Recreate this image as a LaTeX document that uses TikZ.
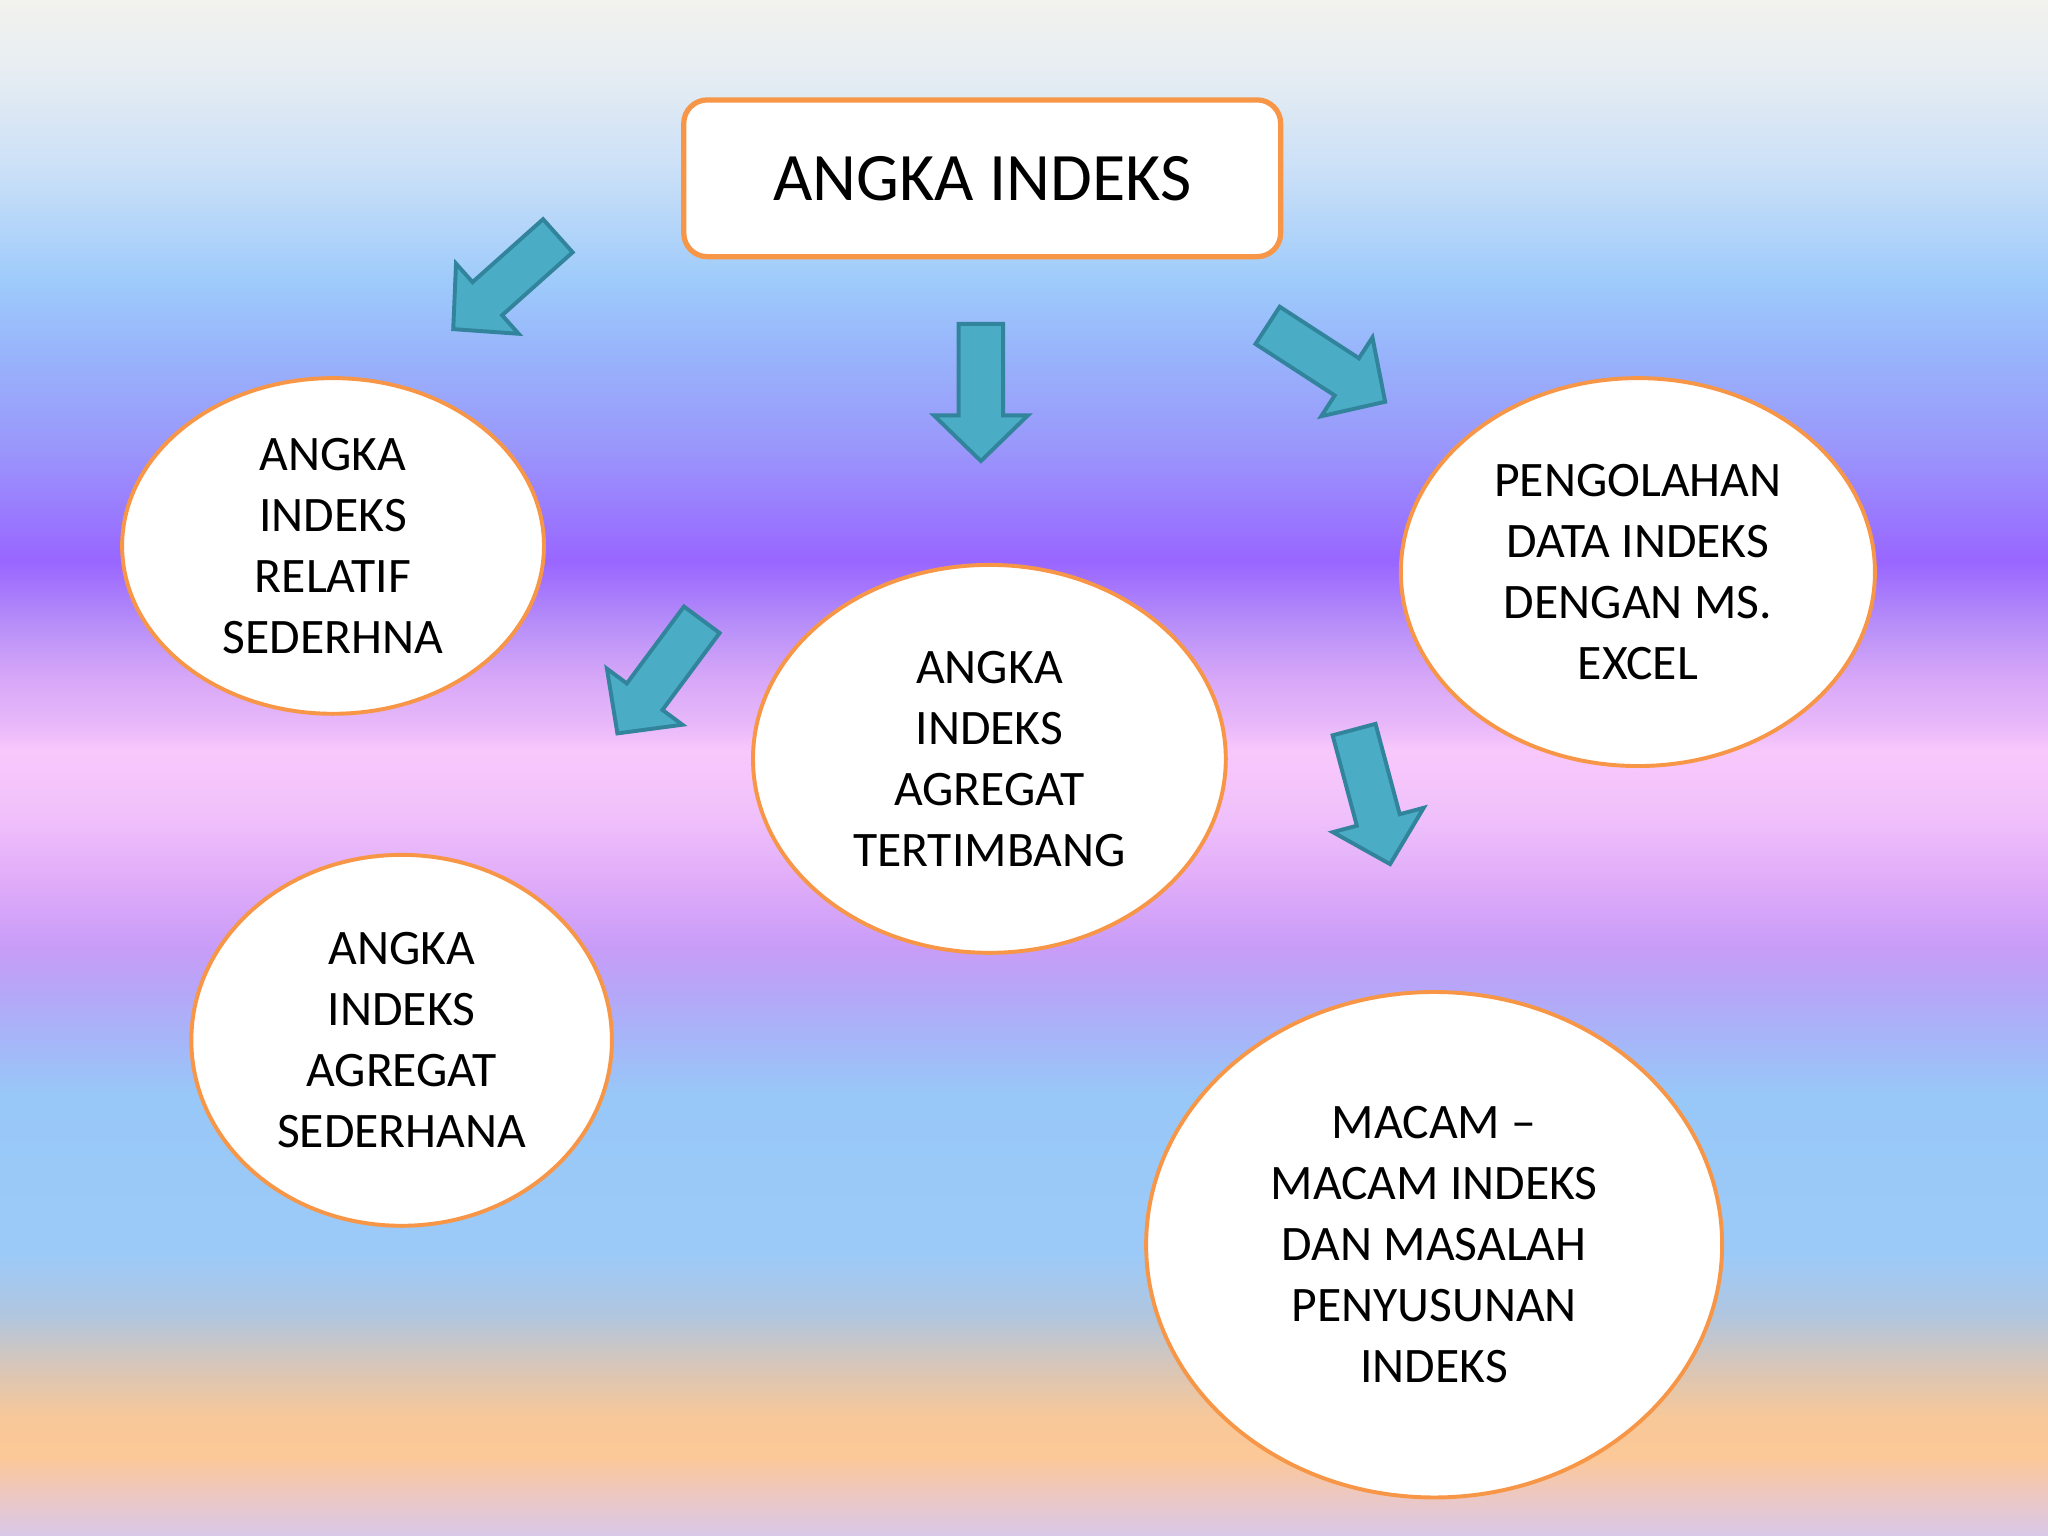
\documentclass[tikz,border=0pt]{standalone}
\usepackage{fontspec}
\setmainfont{Carlito}
\usetikzlibrary{shapes.geometric,calc}
\definecolor{orangeb}{HTML}{F79646}
\definecolor{tealf}{HTML}{4BACC6}
\definecolor{teald}{HTML}{31849B}
\pgfdeclareverticalshading{bgshade}{100bp}{%
rgb(0bp)=(0.847,0.784,0.910);
rgb(25bp)=(0.847,0.784,0.910);
rgb(26.28bp)=(0.925,0.784,0.769);
rgb(27.55bp)=(0.988,0.784,0.596);
rgb(28.83bp)=(0.973,0.784,0.596);
rgb(30.53bp)=(0.847,0.776,0.722);
rgb(32.23bp)=(0.690,0.776,0.878);
rgb(34.18bp)=(0.612,0.792,0.973);
rgb(39.29bp)=(0.596,0.784,0.973);
rgb(40.94bp)=(0.643,0.722,0.973);
rgb(42.56bp)=(0.706,0.659,0.973);
rgb(44.18bp)=(0.784,0.612,0.973);
rgb(46.30bp)=(0.878,0.675,0.976);
rgb(48.43bp)=(0.941,0.753,0.984);
rgb(50.55bp)=(0.973,0.784,0.988);
rgb(51.40bp)=(0.910,0.722,0.980);
rgb(52.85bp)=(0.847,0.659,0.973);
rgb(54.59bp)=(0.722,0.565,0.973);
rgb(56.72bp)=(0.600,0.400,1.000);
rgb(60.54bp)=(0.604,0.596,0.984);
rgb(63.52bp)=(0.596,0.706,0.984);
rgb(65.86bp)=(0.620,0.796,0.984);
rgb(69.47bp)=(0.796,0.878,0.969);
rgb(72.87bp)=(0.910,0.933,0.949);
rgb(75bp)=(0.949,0.949,0.933);
rgb(100bp)=(0.949,0.949,0.933)}
\tikzset{
  bubble/.style={ellipse, draw=orangeb, line width=1.5pt, fill=white, inner sep=0pt,
    align=center, font=\fontsize{19}{23.4}\selectfont},
  titlebox/.style={rectangle, rounded corners=9pt, draw=orangeb, line width=2pt,
    fill=white, minimum width=228.5pt, minimum height=60pt,
    font=\fontsize{26}{31}\selectfont},
  barrow/.style={fill=tealf, draw=teald, line width=1.5pt, line join=miter}
}
\newcommand{\blockarrow}[2]{%
  \coordinate (#1-h) at ($(#2)!17.5pt!(#1)$);
  \draw[barrow] ($(#1)!8.5pt!90:(#2)$) -- ($(#1-h)!8.5pt!90:(#2)$)
    -- ($(#1-h)!18pt!90:(#2)$) -- (#2) -- ($(#1-h)!18pt!-90:(#2)$)
    -- ($(#1-h)!8.5pt!-90:(#2)$) -- ($(#1)!8.5pt!-90:(#2)$) -- cycle;
}
\begin{document}
\begin{tikzpicture}[x=0.5pt,y=-0.5pt]
\useasboundingbox (0,0) rectangle (1568,1176);
\fill[shading=bgshade] (0,0) rectangle (1568,1176);

% block arrows
\coordinate (aT) at (427.1,180.5); \coordinate (aP) at (347,252);
\coordinate (bT) at (751,248);     \coordinate (bP) at (751,353);
\coordinate (cT) at (970.5,249.1); \coordinate (cP) at (1060.5,307.6);
\coordinate (dT) at (537.3,474.5); \coordinate (dP) at (472.7,561.5);
\coordinate (eT) at (1036.7,558.6);\coordinate (eP) at (1064.3,661.6);
\blockarrow{aT}{aP}
\blockarrow{bT}{bP}
\blockarrow{cT}{cP}
\blockarrow{dT}{dP}
\blockarrow{eT}{eP}

\node[titlebox] (title) at (752,136.5) {ANGKA INDEKS};
\node[bubble, minimum width=161.5pt, minimum height=128.5pt] (rel) at (255,418)
  {ANGKA\\INDEKS\\RELATIF\\SEDERHNA};
\node[bubble, minimum width=181pt, minimum height=148.5pt] (tert) at (757.5,581)
  {ANGKA\\INDEKS\\AGREGAT\\TERTIMBANG};
\node[bubble, minimum width=181.5pt, minimum height=148.5pt] (olah) at (1254,438)
  {PENGOLAHAN\\DATA INDEKS\\DENGAN MS.\\EXCEL};
\node[bubble, minimum width=161pt, minimum height=142pt] (seder) at (307.5,796.5)
  {ANGKA\\INDEKS\\AGREGAT\\SEDERHANA};
\node[bubble, minimum width=220.5pt, minimum height=193.5pt] (macam) at (1098,953)
  {MACAM –\\MACAM INDEKS\\DAN MASALAH\\PENYUSUNAN\\INDEKS};
\end{tikzpicture}
\end{document}
